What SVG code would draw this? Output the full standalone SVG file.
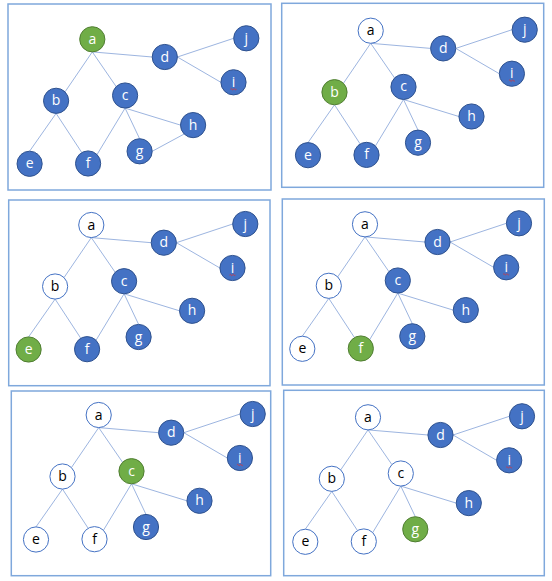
<svg xmlns="http://www.w3.org/2000/svg" xmlns:xlink="http://www.w3.org/1999/xlink" width="552" height="581" viewBox="0 0 552 581">
<style>
.frame{fill:#fff;stroke:#7FA8DC;stroke-width:1.5}
.edge{stroke:#9DB5E0;stroke-width:1;fill:none}
.blue circle{fill:#4472C4;stroke:#2F528F;stroke-width:1}
.green circle{fill:#70AD47;stroke:#507E32;stroke-width:1}
.white circle{fill:#fff;stroke:#4472C4;stroke-width:1}
text{font-family:"Open Sans","Liberation Sans",sans-serif;font-size:14px;text-anchor:middle}
.blue text,.green text{fill:#fff}
.white text{fill:#000}
.sq{stroke:#E03030;stroke-width:0.8;fill:none}
</style>
<rect width="552" height="581" fill="#fff"/>
<g id="frames">
<rect class="frame" x="8" y="4" width="263" height="186"/>
<rect class="frame" x="281.7" y="3.3" width="262" height="184"/>
<rect class="frame" x="8.7" y="200" width="261.3" height="185.7"/>
<rect class="frame" x="282.3" y="199" width="262" height="186"/>
<rect class="frame" x="11.3" y="391" width="259.4" height="184.7"/>
<rect class="frame" x="283.7" y="390.3" width="260.6" height="185.4"/>
</g>
<defs>
<g id="edges-base">
<line x1="0" y1="12.6" x2="-27.3" y2="52.6"/>
<line x1="0" y1="12.6" x2="23.9" y2="47.3"/>
<line x1="0" y1="12.6" x2="59.9" y2="17.7"/>
<line x1="85.1" y1="17.7" x2="141.4" y2="-1"/>
<line x1="85.1" y1="17.7" x2="128.6" y2="43"/>
<line x1="-36.2" y1="74.1" x2="-62.7" y2="111.9"/>
<line x1="-36.2" y1="74.1" x2="-10.5" y2="113.3"/>
<line x1="32.8" y1="68.8" x2="4.7" y2="115.3"/>
<line x1="32.8" y1="68.8" x2="47.3" y2="99.4"/>
<line x1="32.8" y1="68.8" x2="88.2" y2="85.8"/>
</g>
</defs>

<!-- Panel 1 -->
<g id="panel1" transform="translate(92.3,39.3)">
<g id="p1-connectors" class="edge">
<use xlink:href="#edges-base" href="#edges-base"/>
<line x1="59.9" y1="112" x2="91.9" y2="94.7"/>
</g>
<g id="p1-a" class="green"><circle cx="0" cy="0" r="12.6"/><text x="0" y="4.6">a</text></g>
<g id="p1-d" class="blue"><circle cx="72.5" cy="17.7" r="12.6"/><text x="72.5" y="22.3">d</text></g>
<g id="p1-j" class="blue"><circle cx="154" cy="-1" r="12.6"/><text x="154" y="3.6">j</text></g>
<g id="p1-i" class="blue"><circle cx="141.2" cy="43" r="12.6"/><text x="141.2" y="47.6">i</text><path class="sq" d="M138.2,50 q0.75,-1.2 1.5,0 t1.5,0 t1.5,0 t1.5,0"/></g>
<g id="p1-b" class="blue"><circle cx="-36.2" cy="61.5" r="12.6"/><text x="-36.2" y="66.1">b</text></g>
<g id="p1-c" class="blue"><circle cx="32.8" cy="56.2" r="12.6"/><text x="32.8" y="60.8">c</text></g>
<g id="p1-h" class="blue"><circle cx="100.8" cy="85.8" r="12.6"/><text x="100.8" y="90.4">h</text></g>
<g id="p1-g" class="blue"><circle cx="47.3" cy="112" r="12.6"/><text x="47.3" y="116.6">g</text></g>
<g id="p1-e" class="blue"><circle cx="-62.7" cy="124.5" r="12.6"/><text x="-62.7" y="129.1">e</text></g>
<g id="p1-f" class="blue"><circle cx="-4.2" cy="124.2" r="12.6"/><text x="-4.2" y="128.8">f</text></g>
</g>

<!-- Panel 2 -->
<g id="panel2" transform="translate(370.7,30.7)">
<g id="p2-connectors" class="edge"><use xlink:href="#edges-base" href="#edges-base"/></g>
<g id="p2-a" class="white"><circle cx="0" cy="0" r="12.6"/><text x="0" y="4.6">a</text></g>
<g id="p2-d" class="blue"><circle cx="72.5" cy="17.7" r="12.6"/><text x="72.5" y="22.3">d</text></g>
<g id="p2-j" class="blue"><circle cx="154" cy="-1" r="12.6"/><text x="154" y="3.6">j</text></g>
<g id="p2-i" class="blue"><circle cx="141.2" cy="43" r="12.6"/><text x="141.2" y="47.6">i</text><path class="sq" d="M138.2,50 q0.75,-1.2 1.5,0 t1.5,0 t1.5,0 t1.5,0"/></g>
<g id="p2-b" class="green"><circle cx="-36.2" cy="61.5" r="12.6"/><text x="-36.2" y="66.1">b</text></g>
<g id="p2-c" class="blue"><circle cx="32.8" cy="56.2" r="12.6"/><text x="32.8" y="60.8">c</text></g>
<g id="p2-h" class="blue"><circle cx="100.8" cy="85.8" r="12.6"/><text x="100.8" y="90.4">h</text></g>
<g id="p2-g" class="blue"><circle cx="47.3" cy="112" r="12.6"/><text x="47.3" y="116.6">g</text></g>
<g id="p2-e" class="blue"><circle cx="-62.7" cy="124.5" r="12.6"/><text x="-62.7" y="129.1">e</text></g>
<g id="p2-f" class="blue"><circle cx="-4.2" cy="124.2" r="12.6"/><text x="-4.2" y="128.8">f</text></g>
</g>

<!-- Panel 3 -->
<g id="panel3" transform="translate(91.3,225)">
<g id="p3-connectors" class="edge"><use xlink:href="#edges-base" href="#edges-base"/></g>
<g id="p3-a" class="white"><circle cx="0" cy="0" r="12.6"/><text x="0" y="4.6">a</text></g>
<g id="p3-d" class="blue"><circle cx="72.5" cy="17.7" r="12.6"/><text x="72.5" y="22.3">d</text></g>
<g id="p3-j" class="blue"><circle cx="154" cy="-1" r="12.6"/><text x="154" y="3.6">j</text></g>
<g id="p3-i" class="blue"><circle cx="141.2" cy="43" r="12.6"/><text x="141.2" y="47.6">i</text><path class="sq" d="M138.2,50 q0.75,-1.2 1.5,0 t1.5,0 t1.5,0 t1.5,0"/></g>
<g id="p3-b" class="white"><circle cx="-36.2" cy="61.5" r="12.6"/><text x="-36.2" y="66.1">b</text></g>
<g id="p3-c" class="blue"><circle cx="32.8" cy="56.2" r="12.6"/><text x="32.8" y="60.8">c</text></g>
<g id="p3-h" class="blue"><circle cx="100.8" cy="85.8" r="12.6"/><text x="100.8" y="90.4">h</text></g>
<g id="p3-g" class="blue"><circle cx="47.3" cy="112" r="12.6"/><text x="47.3" y="116.6">g</text></g>
<g id="p3-e" class="green"><circle cx="-62.7" cy="124.5" r="12.6"/><text x="-62.7" y="129.1">e</text></g>
<g id="p3-f" class="blue"><circle cx="-4.2" cy="124.2" r="12.6"/><text x="-4.2" y="128.8">f</text></g>
</g>

<!-- Panel 4 -->
<g id="panel4" transform="translate(365,224.3)">
<g id="p4-connectors" class="edge"><use xlink:href="#edges-base" href="#edges-base"/></g>
<g id="p4-a" class="white"><circle cx="0" cy="0" r="12.6"/><text x="0" y="4.6">a</text></g>
<g id="p4-d" class="blue"><circle cx="72.5" cy="17.7" r="12.6"/><text x="72.5" y="22.3">d</text></g>
<g id="p4-j" class="blue"><circle cx="154" cy="-1" r="12.6"/><text x="154" y="3.6">j</text></g>
<g id="p4-i" class="blue"><circle cx="141.2" cy="43" r="12.6"/><text x="141.2" y="47.6">i</text><path class="sq" d="M138.2,50 q0.75,-1.2 1.5,0 t1.5,0 t1.5,0 t1.5,0"/></g>
<g id="p4-b" class="white"><circle cx="-36.2" cy="61.5" r="12.6"/><text x="-36.2" y="66.1">b</text></g>
<g id="p4-c" class="blue"><circle cx="32.8" cy="56.2" r="12.6"/><text x="32.8" y="60.8">c</text></g>
<g id="p4-h" class="blue"><circle cx="100.8" cy="85.8" r="12.6"/><text x="100.8" y="90.4">h</text></g>
<g id="p4-g" class="blue"><circle cx="47.3" cy="112" r="12.6"/><text x="47.3" y="116.6">g</text></g>
<g id="p4-e" class="white"><circle cx="-62.7" cy="124.5" r="12.6"/><text x="-62.7" y="129.1">e</text></g>
<g id="p4-f" class="green"><circle cx="-4.2" cy="124.2" r="12.6"/><text x="-4.2" y="128.8">f</text></g>
</g>

<!-- Panel 5 -->
<g id="panel5" transform="translate(98.7,415)">
<g id="p5-connectors" class="edge"><use xlink:href="#edges-base" href="#edges-base"/></g>
<g id="p5-a" class="white"><circle cx="0" cy="0" r="12.6"/><text x="0" y="4.6">a</text></g>
<g id="p5-d" class="blue"><circle cx="72.5" cy="17.7" r="12.6"/><text x="72.5" y="22.3">d</text></g>
<g id="p5-j" class="blue"><circle cx="154" cy="-1" r="12.6"/><text x="154" y="3.6">j</text></g>
<g id="p5-i" class="blue"><circle cx="141.2" cy="43" r="12.6"/><text x="141.2" y="47.6">i</text><path class="sq" d="M138.2,50 q0.75,-1.2 1.5,0 t1.5,0 t1.5,0 t1.5,0"/></g>
<g id="p5-b" class="white"><circle cx="-36.2" cy="61.5" r="12.6"/><text x="-36.2" y="66.1">b</text></g>
<g id="p5-c" class="green"><circle cx="32.8" cy="56.2" r="12.6"/><text x="32.8" y="60.8">c</text></g>
<g id="p5-h" class="blue"><circle cx="100.8" cy="85.8" r="12.6"/><text x="100.8" y="90.4">h</text></g>
<g id="p5-g" class="blue"><circle cx="47.3" cy="112" r="12.6"/><text x="47.3" y="116.6">g</text></g>
<g id="p5-e" class="white"><circle cx="-62.7" cy="124.5" r="12.6"/><text x="-62.7" y="129.1">e</text></g>
<g id="p5-f" class="white"><circle cx="-4.2" cy="124.2" r="12.6"/><text x="-4.2" y="128.8">f</text></g>
</g>

<!-- Panel 6 -->
<g id="panel6" transform="translate(368,417.3)">
<g id="p6-connectors" class="edge"><use xlink:href="#edges-base" href="#edges-base"/></g>
<g id="p6-a" class="white"><circle cx="0" cy="0" r="12.6"/><text x="0" y="4.6">a</text></g>
<g id="p6-d" class="blue"><circle cx="72.5" cy="17.7" r="12.6"/><text x="72.5" y="22.3">d</text></g>
<g id="p6-j" class="blue"><circle cx="154" cy="-1" r="12.6"/><text x="154" y="3.6">j</text></g>
<g id="p6-i" class="blue"><circle cx="141.2" cy="43" r="12.6"/><text x="141.2" y="47.6">i</text><path class="sq" d="M138.2,50 q0.75,-1.2 1.5,0 t1.5,0 t1.5,0 t1.5,0"/></g>
<g id="p6-b" class="white"><circle cx="-36.2" cy="61.5" r="12.6"/><text x="-36.2" y="66.1">b</text></g>
<g id="p6-c" class="white"><circle cx="32.8" cy="56.2" r="12.6"/><text x="32.8" y="60.8">c</text></g>
<g id="p6-h" class="blue"><circle cx="100.8" cy="85.8" r="12.6"/><text x="100.8" y="90.4">h</text></g>
<g id="p6-g" class="green"><circle cx="47.3" cy="112" r="12.6"/><text x="47.3" y="116.6">g</text></g>
<g id="p6-e" class="white"><circle cx="-62.7" cy="124.5" r="12.6"/><text x="-62.7" y="129.1">e</text></g>
<g id="p6-f" class="white"><circle cx="-4.2" cy="124.2" r="12.6"/><text x="-4.2" y="128.8">f</text></g>
</g>
</svg>
